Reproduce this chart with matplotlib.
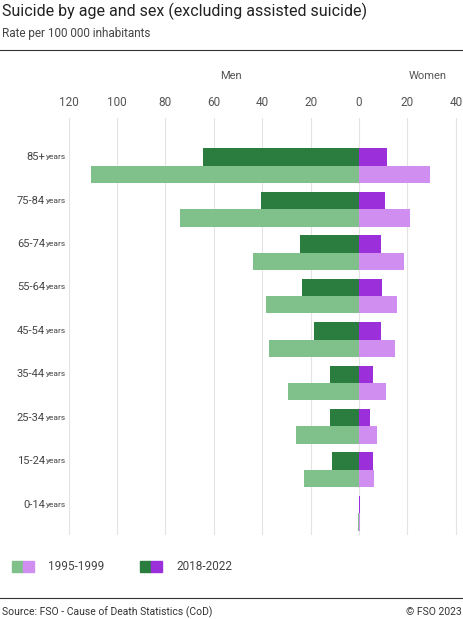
import matplotlib.pyplot as plt
from matplotlib.patches import Rectangle

plt.rcParams['font.family'] = ['Roboto', 'DejaVu Sans']

ages = ['85+', '75-84', '65-74', '55-64', '45-54', '35-44', '25-34', '15-24', '0-14']
men_1995 = [110.7, 74.0, 44.0, 38.4, 37.0, 29.3, 26.0, 22.7, 0.4]
women_1995 = [29.3, 21.0, 18.6, 15.7, 14.9, 11.2, 7.4, 6.2, 0.3]
men_2018 = [64.5, 40.5, 24.4, 23.5, 18.6, 12.0, 12.0, 11.2, 0.2]
women_2018 = [11.5, 10.7, 9.0, 9.5, 9.0, 5.8, 4.5, 5.8, 0.5]
ticks = [-120, -100, -80, -60, -40, -20, 0, 20, 40]

DG, LG, DP, LP = '#2a7d3f', '#80c08b', '#9b2fd9', '#d08ff0'
W, H = 464, 619

fig = plt.figure(figsize=(W / 100, H / 100), dpi=100)
ax = fig.add_axes([0, 1 - 535 / H, 1, (535 - 118) / H])
ax.set_xlim(-359 / 2.42, (W - 359) / 2.42)
ax.set_ylim(8.5, -1.1)
ax.axis('off')

for t in ticks:
    ax.axvline(t, color='#e3e3e3', lw=0.8, zorder=0)
    ax.text(t, -1.3, str(abs(t)), ha='center', va='bottom', fontsize=8.5, color='#555555')

lab_x = (66 - 359) / 2.42
for i, a in enumerate(ages):
    ax.barh(i - 0.2, -men_2018[i], height=0.4, color=DG)
    ax.barh(i - 0.2, women_2018[i], height=0.4, color=DP)
    ax.barh(i + 0.2, -men_1995[i], height=0.4, color=LG)
    ax.barh(i + 0.2, women_1995[i], height=0.4, color=LP)
    ax.text(lab_x, i - 0.2, 'years', ha='right', va='center', fontsize=6, color='#444444')
    ax.annotate(a, (lab_x, i - 0.2), xytext=(-21, 0), textcoords='offset pixels',
                ha='right', va='center', fontsize=8, color='#444444')

fig.text(231 / W, 1 - 76 / H, 'Men', ha='center', va='center', fontsize=8, color='#555555')
fig.text(428 / W, 1 - 76 / H, 'Women', ha='center', va='center', fontsize=8, color='#555555')

fig.text(2 / W, 1 - 11 / H, 'Suicide by age and sex (excluding assisted suicide)',
         ha='left', va='center', fontsize=11.5, color='#222222')
fig.text(2 / W, 1 - 34 / H, 'Rate per 100 000 inhabitants', ha='left', va='center',
         fontsize=8.5, color='#444444')
fig.add_artist(plt.Line2D([0, 1], [1 - 50 / H, 1 - 50 / H], color='#333333', lw=0.8))
fig.add_artist(plt.Line2D([0, 1], [1 - 598 / H, 1 - 598 / H], color='#333333', lw=0.8))

for x0, c1, c2, lab in [(12, LG, LP, '1995-1999'), (140, DG, DP, '2018-2022')]:
    fig.add_artist(Rectangle((x0 / W, 1 - 572 / H), 11 / W, 11 / H, color=c1))
    fig.add_artist(Rectangle(((x0 + 11) / W, 1 - 572 / H), 11 / W, 11 / H, color=c2))
    fig.text((x0 + 36) / W, 1 - 566 / H, lab, ha='left', va='center', fontsize=8.5, color='#444444')

fig.text(2 / W, 1 - 612 / H, 'Source: FSO - Cause of Death Statistics (CoD)', ha='left',
         va='center', fontsize=7.5, color='#333333')
fig.text(462 / W, 1 - 612 / H, '© FSO 2023', ha='right', va='center', fontsize=7.5, color='#333333')

fig.savefig('out.png', dpi=100)
